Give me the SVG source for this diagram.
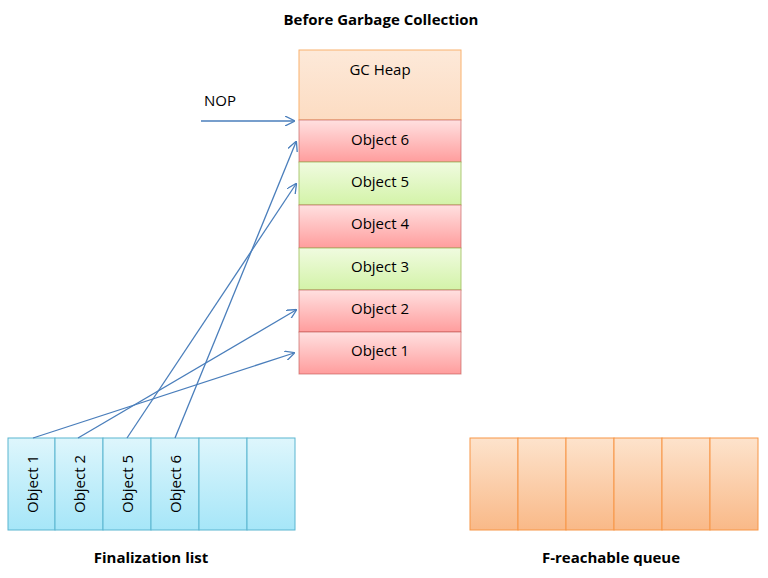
<svg xmlns="http://www.w3.org/2000/svg" width="768" height="578" viewBox="0 0 768 578">
<defs>
<linearGradient id="gRed" x1="0" y1="0" x2="0" y2="1"><stop offset="0" stop-color="#ffe0e0"/><stop offset="1" stop-color="#ff9d9d"/></linearGradient>
<linearGradient id="gGreen" x1="0" y1="0" x2="0" y2="1"><stop offset="0" stop-color="#f0fbe0"/><stop offset="1" stop-color="#d3f3a8"/></linearGradient>
<linearGradient id="gHeap" x1="0" y1="0" x2="0" y2="1"><stop offset="0" stop-color="#fde9d9"/><stop offset="1" stop-color="#fcdcc2"/></linearGradient>
<linearGradient id="gBlue" x1="0" y1="0" x2="0" y2="1"><stop offset="0" stop-color="#def6fc"/><stop offset="1" stop-color="#a6e6f8"/></linearGradient>
<linearGradient id="gOrange" x1="0" y1="0" x2="0" y2="1"><stop offset="0" stop-color="#fde3cc"/><stop offset="1" stop-color="#f9b988"/></linearGradient>
<marker id="arr" viewBox="0 0 10 10" refX="9" refY="5" markerWidth="10" markerHeight="10" markerUnits="userSpaceOnUse" orient="auto"><path d="M0,0 L10,5 L0,10" fill="none" stroke="#4a7ebb" stroke-width="1.3"/></marker>
</defs>
<style>
text{font-family:"Open Sans","Liberation Sans",sans-serif;font-size:15px;fill:#000}
.b{font-weight:bold}
.red{fill:url(#gRed);stroke:#c0504d;stroke-opacity:.6}
.green{fill:url(#gGreen);stroke:#9bbb59;stroke-opacity:.8}
.blue{fill:url(#gBlue);stroke:#5bb5d0}
.orange{fill:url(#gOrange);stroke:#f79646}
.c{stroke:#4a7ebb;stroke-width:1.3;fill:none;marker-end:url(#arr)}
</style>
<rect width="768" height="578" fill="#fff"/>
<text x="381" y="25" text-anchor="middle" class="b">Before Garbage Collection</text>
<g id="heap"><rect x="299" y="50" width="162" height="70" fill="url(#gHeap)" stroke="#f9b26f"/><text x="380" y="75" text-anchor="middle">GC Heap</text></g>
<g id="obj6"><rect x="299" y="120" width="162" height="42" class="red"/><text x="380" y="145" text-anchor="middle">Object 6</text></g>
<g id="obj5"><rect x="299" y="162" width="162" height="43" class="green"/><text x="380" y="187" text-anchor="middle">Object 5</text></g>
<g id="obj4"><rect x="299" y="205" width="162" height="43" class="red"/><text x="380" y="229" text-anchor="middle">Object 4</text></g>
<g id="obj3"><rect x="299" y="248" width="162" height="42" class="green"/><text x="380" y="272" text-anchor="middle">Object 3</text></g>
<g id="obj2"><rect x="299" y="290" width="162" height="42" class="red"/><text x="380" y="314" text-anchor="middle">Object 2</text></g>
<g id="obj1"><rect x="299" y="332" width="162" height="42" class="red"/><text x="380" y="356" text-anchor="middle">Object 1</text></g>
<g id="nop"><text x="220" y="106" text-anchor="middle">NOP</text></g>
<g id="finalization">
<rect x="8" y="438" width="47" height="92" class="blue"/><text transform="translate(38,484) rotate(-90)" text-anchor="middle">Object 1</text>
<rect x="55" y="438" width="48" height="92" class="blue"/><text transform="translate(85,484) rotate(-90)" text-anchor="middle">Object 2</text>
<rect x="103" y="438" width="48" height="92" class="blue"/><text transform="translate(133,484) rotate(-90)" text-anchor="middle">Object 5</text>
<rect x="151" y="438" width="48" height="92" class="blue"/><text transform="translate(181,484) rotate(-90)" text-anchor="middle">Object 6</text>
<rect x="199" y="438" width="48" height="92" class="blue"/>
<rect x="247" y="438" width="48" height="92" class="blue"/>
<text x="151" y="563" text-anchor="middle" class="b">Finalization list</text>
</g>
<g id="freachable">
<rect x="470" y="438" width="48" height="92" class="orange"/>
<rect x="518" y="438" width="48" height="92" class="orange"/>
<rect x="566" y="438" width="48" height="92" class="orange"/>
<rect x="614" y="438" width="48" height="92" class="orange"/>
<rect x="662" y="438" width="48" height="92" class="orange"/>
<rect x="710" y="438" width="48" height="92" class="orange"/>
<text x="611" y="563" text-anchor="middle" class="b">F-reachable queue</text>
</g>
<g id="connectors">
<line x1="201" y1="121" x2="294" y2="121" class="c"/>
<line x1="33" y1="438" x2="294" y2="353" class="c"/>
<line x1="78" y1="438" x2="296" y2="310" class="c"/>
<line x1="127" y1="438" x2="296" y2="184" class="c"/>
<line x1="175" y1="438" x2="296" y2="142" class="c"/>
</g>
</svg>
